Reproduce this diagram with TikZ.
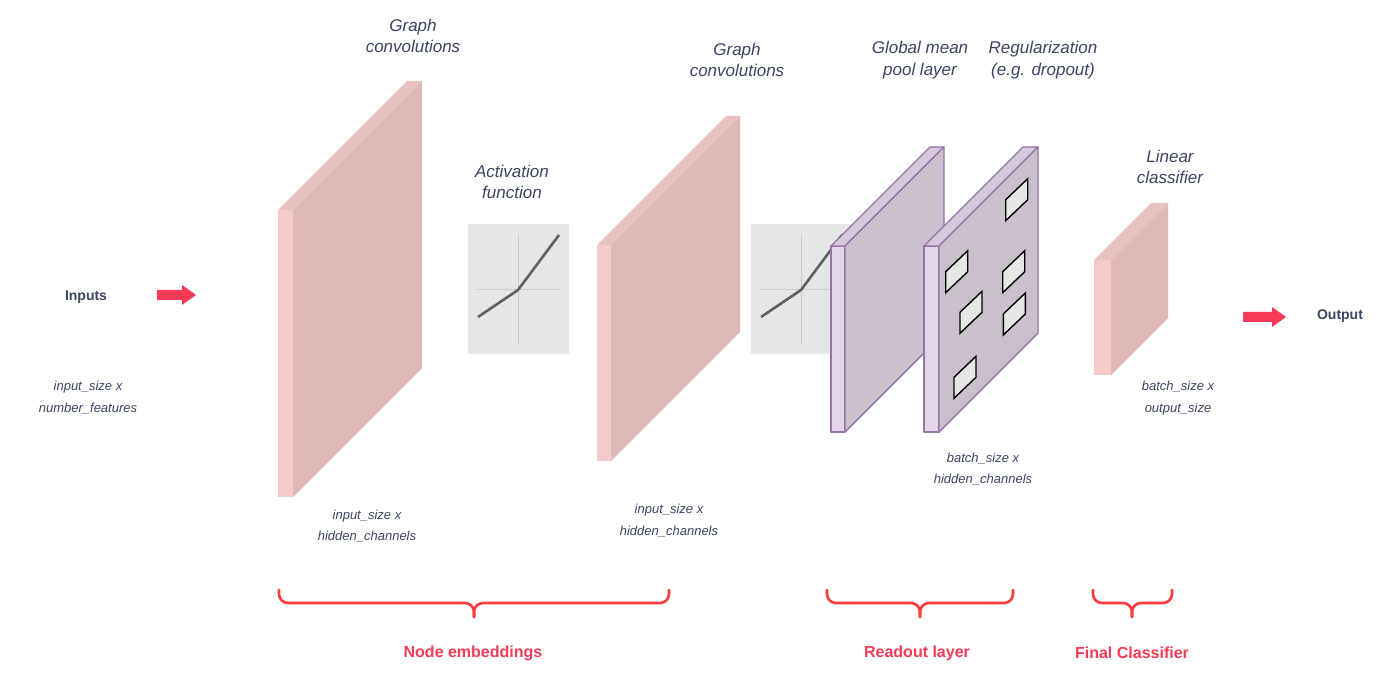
\documentclass[tikz,border=0pt]{standalone}
\usepackage{fontspec}
\setmainfont{Liberation Sans}
\definecolor{pinkfront}{HTML}{F5CBCA}
\definecolor{pinktop}{HTML}{E9C1C0}
\definecolor{pinkside}{HTML}{DFB8B8}
\definecolor{purpfront}{HTML}{E1D5E7}
\definecolor{purptop}{HTML}{D6C8DB}
\definecolor{purpside}{HTML}{CBBFCE}
\definecolor{purpline}{HTML}{9673A6}
\definecolor{actbg}{HTML}{E6E6E6}
\definecolor{actaxis}{HTML}{CCCCCC}
\definecolor{actcurve}{HTML}{606060}
\definecolor{navy}{HTML}{3C4464}
\definecolor{redtxt}{HTML}{F73B57}
\definecolor{redbrace}{HTML}{FF3B3B}
\newcommand{\pinkslab}[5]{%
  \fill[pinkfront] (#1,#2) rectangle ({#1+#3},{#2+#4});
  \fill[pinktop] (#1,#2) -- ({#1+#3},#2) -- ({#1+#3+#5},{#2-#5}) -- ({#1+#5},{#2-#5}) -- cycle;
  \fill[pinkside] ({#1+#3},#2) -- ({#1+#3+#5},{#2-#5}) -- ({#1+#3+#5},{#2+#4-#5}) -- ({#1+#3},{#2+#4}) -- cycle;
}
\newcommand{\purpslab}[5]{%
  \filldraw[fill=purpfront,draw=purpline,line width=1.4pt,line join=round] (#1,#2) rectangle ({#1+#3},{#2+#4});
  \filldraw[fill=purptop,draw=purpline,line width=1.4pt,line join=round] (#1,#2) -- ({#1+#3},#2) -- ({#1+#3+#5},{#2-#5}) -- ({#1+#5},{#2-#5}) -- cycle;
  \filldraw[fill=purpside,draw=purpline,line width=1.4pt,line join=round] ({#1+#3},#2) -- ({#1+#3+#5},{#2-#5}) -- ({#1+#3+#5},{#2+#4-#5}) -- ({#1+#3},{#2+#4}) -- cycle;
}
\newcommand{\actbox}[1]{%
  \fill[actbg] (#1,224) rectangle ({#1+101},354);
  \draw[actaxis,line width=1pt] ({#1+50},235) -- ({#1+50},345);
  \draw[actaxis,line width=1pt] ({#1+9},290) -- ({#1+92},290);
  \draw[actcurve,line width=2.6pt,line join=round] ({#1+10},317) -- ({#1+50},290) -- ({#1+91},235);
}
\newcommand{\dropcell}[2]{%
  \filldraw[fill=actbg,draw=black,line width=1.4pt] (#1,#2) -- ({#1+22},{#2-21}) -- ({#1+22},{#2-42}) -- (#1,{#2-21}) -- cycle;
}
\newcommand{\blockarrow}[3]{%
  \fill[redtxt] (#1,{#3-5}) -- ({#2-14},{#3-5}) -- ({#2-14},{#3-10}) -- (#2,#3) -- ({#2-14},{#3+10}) -- ({#2-14},{#3+5}) -- (#1,{#3+5}) -- cycle;
}
\tikzset{
  toplabel/.style={text=navy,align=center,font=\fontsize{17}{21.5}\selectfont\itshape,inner sep=0pt},
  dimlabel/.style={text=navy,align=center,font=\fontsize{13}{21.5}\selectfont\itshape,inner sep=0pt},
  iolabel/.style={text=navy,font=\fontsize{14}{17}\selectfont\bfseries,inner sep=0pt},
  grouplabel/.style={text=redtxt,font=\fontsize{16}{19}\selectfont\bfseries,inner sep=0pt},
  bracepath/.style={draw=redbrace,line width=2.6pt,rounded corners=9pt,line cap=round}
}
\begin{document}
\begin{tikzpicture}[x=1pt,y=-1pt]
\useasboundingbox[fill=white] (0,0) rectangle (1400,692);
% layers
\pinkslab{278}{210}{15}{287}{129}
\actbox{468}
\pinkslab{597}{245}{14}{216}{129}
\actbox{751}
\purpslab{831}{246}{14}{186}{99}
\purpslab{924}{246}{15}{186}{99}
\dropcell{1005.7}{220.7}
\dropcell{945.7}{292.7}
\dropcell{960}{333.3}
\dropcell{1002.7}{292.7}
\dropcell{1003.3}{335}
\dropcell{954}{398.3}
\pinkslab{1094}{260}{17}{115}{57}
% arrows
\blockarrow{157}{196}{295}
\blockarrow{1243}{1286}{317}
% labels
\node[toplabel] (gc1) at (413,36) {Graph\\convolutions};
\node[toplabel] (act) at (512,182) {Activation\\function};
\node[toplabel] (gc2) at (737,60) {Graph\\convolutions};
\node[toplabel] (gmp) at (920,60) {Global mean\\pool layer};
\node[toplabel] (reg) at (1043,60) {Regularization\\(e.g. dropout)};
\node[toplabel] (lin) at (1170,167) {Linear\\classifier};
\node[iolabel] (inp) at (86,297) {Inputs};
\node[iolabel] (out) at (1340,316) {Output};
\node[dimlabel] (d0) at (88,397.5) {input\_size x\\number\_features};
\node[dimlabel] (d1) at (367,526) {input\_size x\\hidden\_channels};
\node[dimlabel] (d2) at (669,520.5) {input\_size x\\hidden\_channels};
\node[dimlabel] (d3) at (983,469) {batch\_size x\\hidden\_channels};
\node[dimlabel] (d4) at (1178,398) {batch\_size x\\output\_size};
% braces
\coordinate (b1) at (474,603);
\draw[bracepath] (279,590) |- (b1) -- (474,617);
\draw[bracepath] (669,590) |- (b1) -- (474,617);
\coordinate (b2) at (920,603);
\draw[bracepath] (827,590) |- (b2) -- (920,617);
\draw[bracepath] (1013,590) |- (b2) -- (920,617);
\coordinate (b3) at (1132,603);
\draw[bracepath] (1093,590) |- (b3) -- (1132,617);
\draw[bracepath] (1172,590) |- (b3) -- (1132,617);
\node[grouplabel] (g1) at (473,653) {Node embeddings};
\node[grouplabel] (g2) at (917,653) {Readout layer};
\node[grouplabel] (g3) at (1132,653) {Final Classifier};
\end{tikzpicture}
\end{document}
